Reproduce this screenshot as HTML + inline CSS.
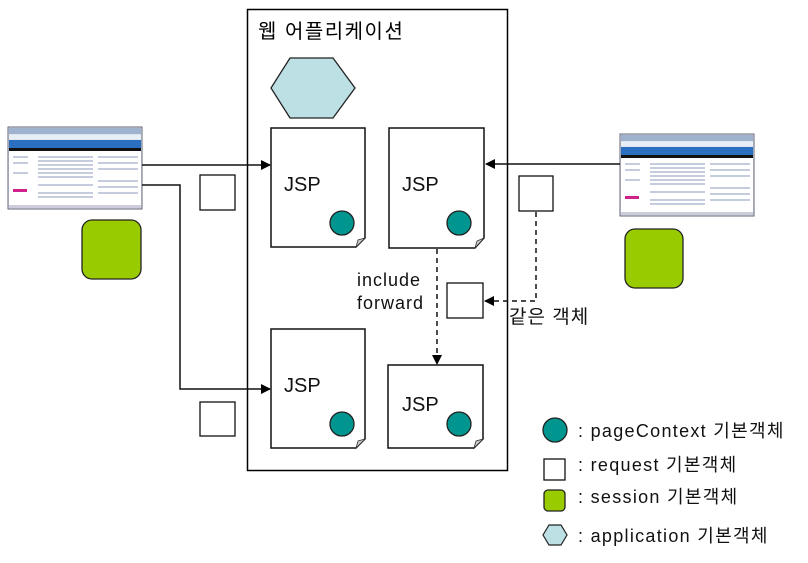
<!DOCTYPE html>
<html><head><meta charset="utf-8"><style>
body{margin:0;background:#fff;}
svg{display:block;font-family:"Liberation Sans","Noto Sans CJK KR",sans-serif;}
</style></head><body>
<svg width="808" height="563" viewBox="0 0 808 563" xmlns="http://www.w3.org/2000/svg">
<defs>
<marker id="ah" markerWidth="10" markerHeight="10" refX="9" refY="5" orient="auto" markerUnits="userSpaceOnUse">
<path d="M0,0 L10,5 L0,10 z" fill="#000"/></marker>
<g id="browser">
<rect x="0" y="0" width="134" height="82" fill="#dfe6ef" stroke="#667" stroke-width="1"/>
<rect x="1" y="1" width="132" height="6" fill="#9fb3cf"/>
<rect x="1" y="8" width="132" height="4" fill="#e8eef5"/>
<rect x="1" y="13" width="132" height="8" fill="#2a6fc0"/>
<rect x="1" y="21" width="132" height="3" fill="#111"/>
<rect x="1" y="24" width="132" height="55" fill="#fff"/>
<g stroke="#8899bb" stroke-width="1">
<line x1="30" y1="30" x2="85" y2="30"/><line x1="30" y1="34" x2="85" y2="34"/><line x1="30" y1="38" x2="85" y2="38"/>
<line x1="30" y1="42" x2="85" y2="42"/><line x1="30" y1="46" x2="85" y2="46"/><line x1="30" y1="50" x2="85" y2="50"/>
<line x1="30" y1="58" x2="85" y2="58"/><line x1="30" y1="66" x2="85" y2="66"/><line x1="30" y1="70" x2="85" y2="70"/>
<line x1="90" y1="30" x2="130" y2="30"/><line x1="90" y1="36" x2="130" y2="36"/><line x1="90" y1="42" x2="130" y2="42"/>
<line x1="90" y1="54" x2="130" y2="54"/><line x1="90" y1="60" x2="130" y2="60"/><line x1="90" y1="66" x2="130" y2="66"/>
<line x1="5" y1="30" x2="20" y2="30"/><line x1="5" y1="36" x2="20" y2="36"/><line x1="5" y1="46" x2="20" y2="46"/>
</g>
<rect x="5" y="62" width="14" height="3" fill="#d0208a"/>
<rect x="1" y="78" width="132" height="3" fill="#ccd"/>
</g>
</defs>

<rect x="247.5" y="9.5" width="260" height="461" fill="none" stroke="#000" stroke-width="1.5"/>
<text x="258" y="38" font-size="20" letter-spacing="1.5">웹 어플리케이션</text>
<polygon points="290,58 333,58 355,88 333,118 290,118 271,88" fill="#bde0e5" stroke="#222" stroke-width="1.3"/>

<g stroke="#111" stroke-width="1.5" fill="#fff">
<path d="M271,128 H365 V238 L356,247 H271 Z"/>
<path d="M389,128 H484 V238 L475,248 H389 Z"/>
<path d="M271,329 H365 V439 L356,448 H271 Z"/>
<path d="M388,365 H483 V439 L474,448 H388 Z"/>
</g>
<g fill="#ccc" stroke="#333" stroke-width="0.8">
<path d="M356,247 L358,240 L365,238 Z"/><path d="M475,248 L477,241 L484,238 Z"/>
<path d="M356,448 L358,441 L365,439 Z"/><path d="M474,448 L476,441 L483,439 Z"/>
</g>
<g font-size="20" fill="#111">
<text x="284" y="191">JSP</text><text x="402" y="191">JSP</text>
<text x="284" y="392">JSP</text><text x="402" y="411">JSP</text>
</g>
<g fill="#00968f" stroke="#222" stroke-width="1.3">
<circle cx="342" cy="223" r="12"/><circle cx="459" cy="223" r="12"/>
<circle cx="342" cy="424" r="12"/><circle cx="459" cy="424" r="12"/>
<circle cx="555" cy="430" r="12"/>
</g>

<use href="#browser" x="8" y="127"/>
<use href="#browser" x="620" y="134"/>

<rect x="82" y="220" width="59" height="59" rx="10" fill="#99cc00" stroke="#222" stroke-width="1.3"/>
<rect x="625" y="229" width="58" height="59" rx="10" fill="#99cc00" stroke="#222" stroke-width="1.3"/>

<g fill="#fff" stroke="#111" stroke-width="1.3">
<rect x="200" y="175" width="35" height="35"/>
<rect x="519" y="176" width="34" height="35"/>
<rect x="447" y="283" width="36" height="35"/>
<rect x="200" y="402" width="35" height="34"/>
</g>

<g stroke="#111" stroke-width="1.5" fill="none">
<line x1="142" y1="165" x2="270" y2="165" marker-end="url(#ah)"/>
<polyline points="142,185 180,185 180,389 270,389" marker-end="url(#ah)"/>
<line x1="620" y1="164" x2="486" y2="164" marker-end="url(#ah)"/>
<line x1="437" y1="249" x2="437" y2="364" stroke-dasharray="5,4" marker-end="url(#ah)"/>
<polyline points="536,212 536,301 485,301" stroke-dasharray="5,4" marker-end="url(#ah)"/>
</g>

<g font-size="18" fill="#111" letter-spacing="1">
<text x="357" y="286">include</text>
<text x="357" y="309">forward</text>
<text x="509" y="323" font-size="19">같은 객체</text>
</g>

<rect x="544" y="459" width="21" height="21" fill="#fff" stroke="#111" stroke-width="1.3"/>
<rect x="544" y="490" width="21" height="21" rx="4" fill="#99cc00" stroke="#222" stroke-width="1.3"/>
<polygon points="549,525 561,525 567,535 561,545 549,545 543,535" fill="#bde0e5" stroke="#222" stroke-width="1.2"/>
<g font-size="18" fill="#111" letter-spacing="1.3">
<text x="578" y="437">: pageContext 기본객체</text>
<text x="578" y="471">: request 기본객체</text>
<text x="578" y="503">: session 기본객체</text>
<text x="578" y="542">: application 기본객체</text>
</g>
</svg>
</body></html>
